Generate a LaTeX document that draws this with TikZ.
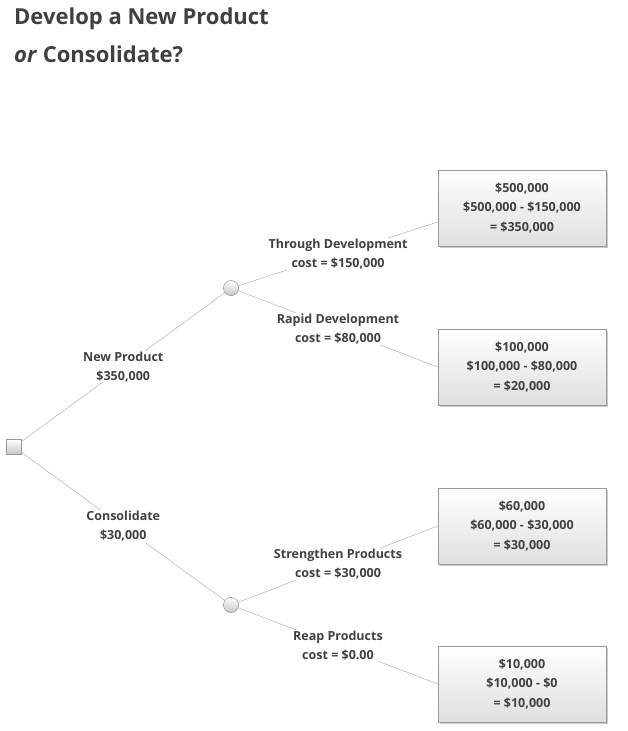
\documentclass[tikz,border=0pt]{standalone}
\usepackage{fontspec}
\setmainfont{Open Sans}
\usetikzlibrary{shadows}
\begin{document}
\begin{tikzpicture}
		[x=1pt,y=-1pt,
		%Styles
		branch/.style={gray!70,thin},
		label text/.style={fill=white,inner sep=1pt,align=center,font=\bfseries\fontsize{12.5}{19}\selectfont,text=black!75},
		payoff/.style={draw=gray!80,top color=white,bottom color=gray!25,minimum width=168pt,minimum height=76pt,align=center,
			font=\bfseries\fontsize{12.5}{19.5}\selectfont,text=black!75,drop shadow={shadow xshift=2pt,shadow yshift=-2pt,opacity=0.4}},
		chance/.style={circle,draw=gray!80,top color=white,bottom color=gray!45,minimum size=15pt,inner sep=0pt},
		decision/.style={draw=gray!80,top color=white,bottom color=gray!45,minimum size=15pt,inner sep=0pt}
		]
		\useasboundingbox (0,0) rectangle (627,731);
		
		%Title
		\node[anchor=north west,align=left,text=black!75,font=\bfseries\fontsize{22}{38}\selectfont,inner sep=0pt] (title) at (14,8)
			{Develop a New Product\\\textit{or} Consolidate?};
		
		%The graphic
		\node[decision] (D) at (14,447) {};
		\node[chance] (C1) at (231,288) {};
		\node[chance] (C2) at (231,605) {};
		\node[payoff] (P1) at (522,208) {\$500,000\\\$500,000 - \$150,000\\= \$350,000};
		\node[payoff] (P2) at (522,367) {\$100,000\\\$100,000 - \$80,000\\= \$20,000};
		\node[payoff] (P3) at (522,526) {\$60,000\\\$60,000 - \$30,000\\= \$30,000};
		\node[payoff] (P4) at (522,684) {\$10,000\\\$10,000 - \$0\\= \$10,000};
		
		\draw[branch] (D) -- node[label text,pos=0.5] {New Product\\\$350,000} (C1);
		\draw[branch] (D) -- node[label text,pos=0.5] {Consolidate\\\$30,000} (C2);
		\draw[branch] (C1) -- node[label text,pos=0.5] {Through Development\\cost = \$150,000} ([yshift=-14pt]P1.west);
		\draw[branch] (C1) -- node[label text,pos=0.5] {Rapid Development\\cost = \$80,000} (P2.west);
		\draw[branch] (C2) -- node[label text,pos=0.5] {Strengthen Products\\cost = \$30,000} (P3.west);
		\draw[branch] (C2) -- node[label text,pos=0.5] {Reap Products\\cost = \$0.00} (P4.west);
		\node[chance] at (C1) {};
		\node[chance] at (C2) {};
		\node[decision] at (D) {};
\end{tikzpicture}
\end{document}
